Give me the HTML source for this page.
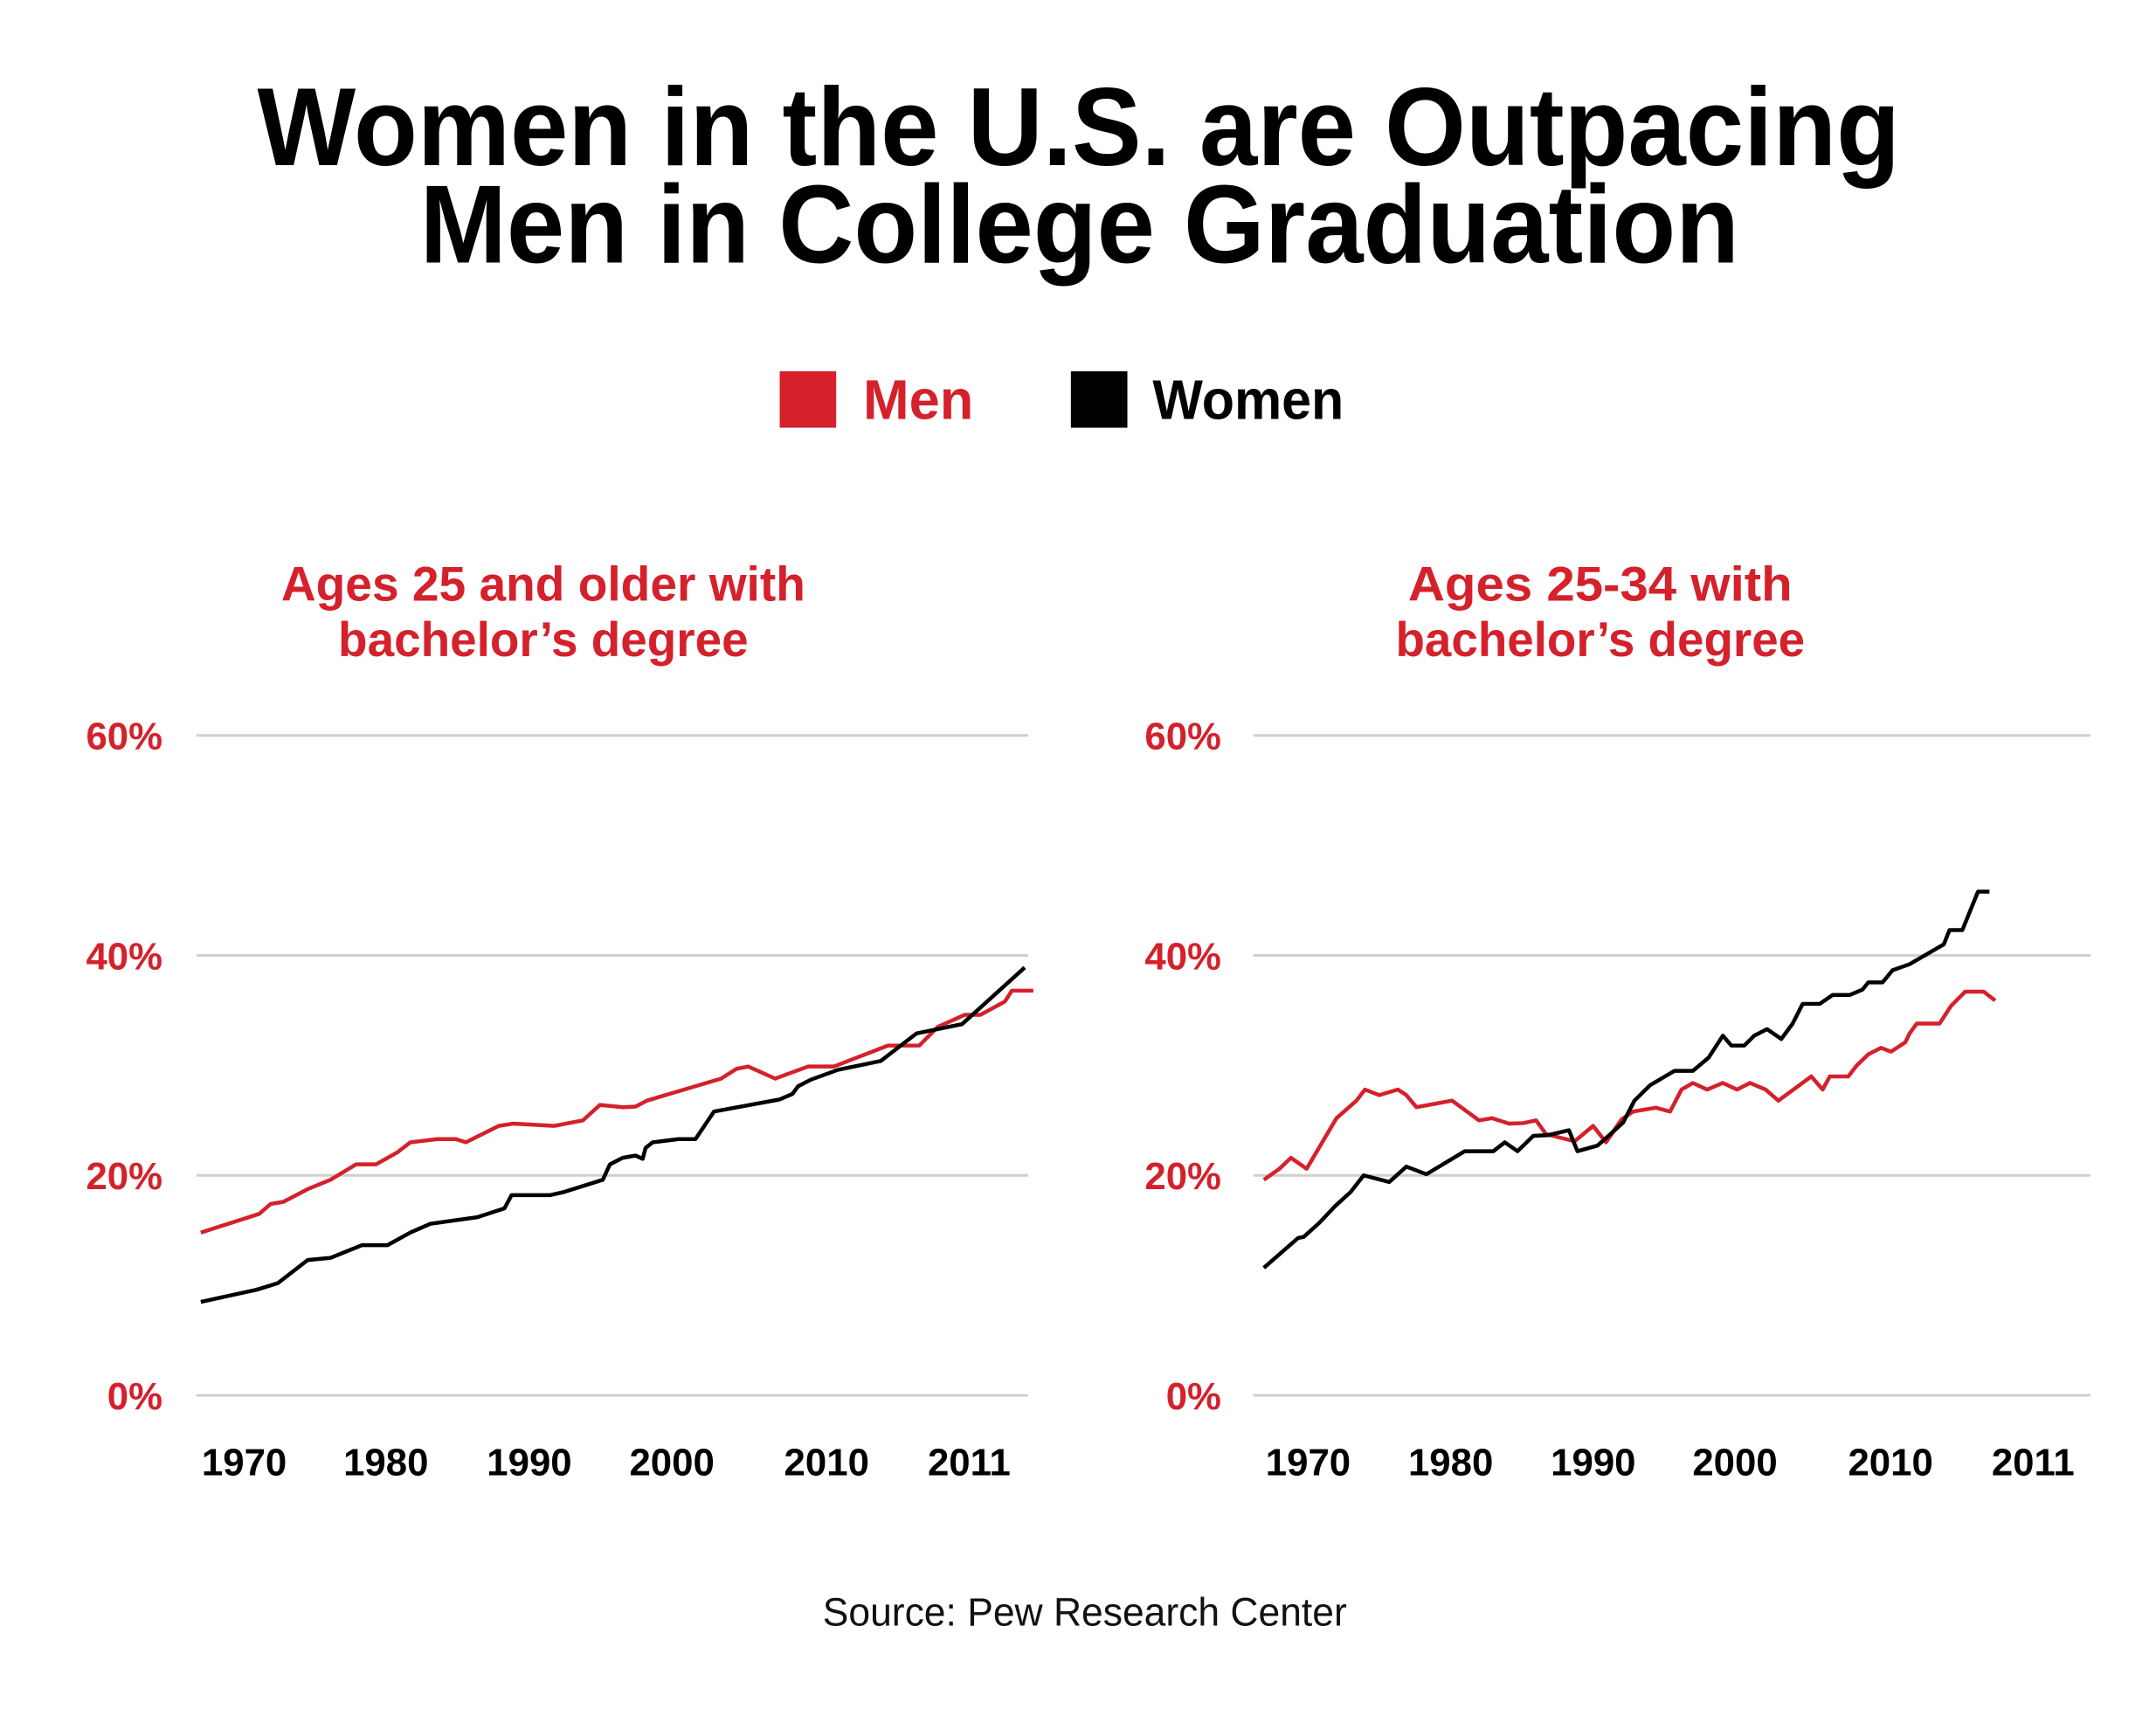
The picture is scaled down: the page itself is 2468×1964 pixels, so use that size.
<!DOCTYPE html>
<html><head><meta charset="utf-8"><style>
html,body{margin:0;padding:0;background:#fff;}
svg{display:block;}
text{font-family:"Liberation Sans",Arial,sans-serif;}
</style></head><body>
<svg id="chart" width="2468" height="1964" viewBox="0 0 2468 1964" xmlns="http://www.w3.org/2000/svg">
<rect width="2468" height="1964" fill="#fff"/>
<g transform="scale(0.995)">
<g>
<text x="296" y="190" font-size="128" font-weight="bold" textLength="1890" lengthAdjust="spacingAndGlyphs" fill="#000">Women in the U.S. are Outpacing</text>
<text x="483" y="302" font-size="128" font-weight="bold" textLength="1518" lengthAdjust="spacingAndGlyphs" fill="#000">Men in College Graduation</text>
</g>
<g>
<rect x="897" y="427" width="65" height="65" fill="#d4212b"/>
<text x="993" y="482" font-size="64" font-weight="bold" fill="#d4212b" textLength="127" lengthAdjust="spacingAndGlyphs">Men</text>
<rect x="1232" y="427" width="65" height="65" fill="#000"/>
<text x="1326" y="482" font-size="64" font-weight="bold" fill="#000" textLength="220" lengthAdjust="spacingAndGlyphs">Women</text>
</g>
<g>
<text x="625" y="691" font-size="56" font-weight="bold" fill="#d4212b" text-anchor="middle" textLength="603" lengthAdjust="spacingAndGlyphs">Ages 25 and older with</text>
<text x="625" y="755" font-size="56" font-weight="bold" fill="#d4212b" text-anchor="middle" textLength="472" lengthAdjust="spacingAndGlyphs">bachelor’s degree</text>
</g>
<g>
<text x="1841" y="691" font-size="56" font-weight="bold" fill="#d4212b" text-anchor="middle" textLength="442" lengthAdjust="spacingAndGlyphs">Ages 25-34 with</text>
<text x="1841" y="755" font-size="56" font-weight="bold" fill="#d4212b" text-anchor="middle" textLength="471" lengthAdjust="spacingAndGlyphs">bachelor’s degree</text>
</g>
<g id="left-panel"></g>
<g id="right-panel"></g>
<text x="1248" y="1870" font-size="46" fill="#111" text-anchor="middle" textLength="603" lengthAdjust="spacingAndGlyphs">Source: Pew Research Center</text>
</g>
</svg>
<script>
const yTicks = [0, 20, 40, 60];
const yTickLabels = ["0%", "20%", "40%", "60%"];
const xTickLabels = ["1970", "1980", "1990", "2000", "2010", "2011"];
const leftMenYears = [1967,1971.1,1971.9,1972.8,1974.5,1976.1,1977.9,1979.3,1980.8,1981.7,1983.6,1984.9,1985.6,1987.9,1988.9,1991.8,1993.8,1995.0,1996.6,1997.5,1998.3,2003.5,2004.6,2005.4,2006.1,2007.3,2009.6,2011.4,2015.2,2017.4,2018.7,2020.6,2021.7,2023.4,2023.9,2025.4];
const leftMenValues = [14.8,16.5,17.4,17.6,18.75,19.6,21.0,21.0,22.1,23.0,23.3,23.3,23.0,24.5,24.7,24.5,25.0,26.4,26.2,26.25,26.8,28.8,29.7,29.9,29.5,28.8,29.9,29.9,31.8,31.8,33.5,34.6,34.6,35.8,36.8,36.8];
const leftWomenYears = [1967,1970.9,1972.4,1974.5,1976.1,1978.3,1980.1,1981.7,1983.1,1986.4,1988.3,1988.8,1991.5,1992.5,1995.2,1995.7,1996.6,1997.5,1998.0,1998.2,1998.7,2000.5,2001.7,2003.0,2007.6,2008.5,2008.9,2009.8,2011.7,2014.7,2017.2,2020.4,2024.8];
const leftWomenValues = [8.5,9.6,10.2,12.3,12.5,13.65,13.65,14.8,15.6,16.2,17.0,18.2,18.2,18.5,19.6,21.0,21.6,21.8,21.5,22.5,23.0,23.3,23.3,25.8,26.9,27.4,28.1,28.7,29.6,30.4,32.9,33.75,38.9];
const rightMenYears = [1967,1968.1,1968.9,1970,1972.1,1973.5,1974.1,1975.1,1976.4,1977,1977.7,1980.2,1982.1,1983,1984.2,1985.2,1986.1,1986.8,1988.8,1990.1,1991,1992.1,1992.9,1994.5,1995.5,1996.3,1997.1,1998.1,1999.2,2000.2,2001.1,2002.2,2003.1,2005.4,2006.2,2006.7,2008,2008.6,2009.4,2010.3,2011,2012,2012.3,2012.8,2014.4,2015.2,2016.2,2017.5,2018.3];
const rightMenValues = [19.6,20.6,21.6,20.6,25.2,26.8,27.8,27.3,27.8,27.3,26.2,26.8,25.0,25.2,24.7,24.75,25.0,23.75,23.1,24.5,23.0,25.1,25.8,26.15,25.8,27.8,28.4,27.8,28.4,27.8,28.4,27.8,26.8,29.0,27.8,29.0,29.0,30.0,31.0,31.6,31.25,32.1,32.9,33.8,33.8,35.4,36.7,36.7,35.9];
const rightWomenYears = [1967,1969.4,1969.8,1970.9,1972,1973.1,1974,1975.8,1977,1978.4,1981.1,1983.1,1983.9,1984.8,1985.9,1986.9,1988.4,1989,1990.4,1991.1,1992.2,1993,1994.1,1995.8,1997.1,1998.2,1999.2,1999.8,2000.7,2001.4,2002.3,2003.3,2004.1,2004.8,2006,2006.9,2008.1,2009,2009.4,2010.4,2011.1,2012.3,2014.7,2015.1,2016,2017.1,2017.9];
const rightWomenValues = [11.6,14.3,14.4,15.7,17.2,18.5,20.0,19.4,20.8,20.1,22.2,22.2,23.0,22.2,23.6,23.65,24.1,22.2,22.7,23.5,24.8,26.8,28.2,29.5,29.5,30.7,32.7,31.8,31.8,32.7,33.3,32.4,33.8,35.6,35.6,36.4,36.4,36.9,37.55,37.55,38.65,39.2,41.0,42.3,42.3,45.8,45.8];

const NS = "http://www.w3.org/2000/svg";
function mk(tag, attrs, parent){const e=document.createElementNS(NS,tag);for(const k in attrs)e.setAttribute(k,attrs[k]);parent.appendChild(e);return e;}
function yScale(v){return 1605 - v*(1605-846)/60;}
function drawPanel(g, gx0, gx1, lx0, ylabRight, labX, menY, menV, womY, womV, side){
  const xScale = y => lx0 + (y-1967)*16.4;
  yTicks.forEach((t,i)=>{
    const ln = mk("line",{x1:gx0,x2:gx1,y1:yScale(t),y2:yScale(t),stroke:"#cfcfcf","stroke-width":3},g);
    
    
    const tx = mk("text",{x:ylabRight,y:yScale(t)+16,"font-size":44,"font-weight":"bold",fill:"#d4212b","text-anchor":"end"},g);
    tx.textContent = yTickLabels[i];
    
    
  });
  xTickLabels.forEach((l,i)=>{
    const tx = mk("text",{x:labX[i],y:1697,"font-size":44,"font-weight":"bold",fill:"#000","text-anchor":"middle"},g);
    tx.textContent = l;
    
    
  });
  const series = [[menY,menV,"#d4212b","men"],[womY,womV,"#000","women"]];
  series.forEach(s=>{
    const d = s[0].map((yr,i)=>(i?"L":"M")+xScale(yr).toFixed(1)+","+yScale(s[1][i]).toFixed(1)).join(" ");
    const p = mk("path",{d:d,fill:"none",stroke:s[2],"stroke-width":4.5,"stroke-linejoin":"round"},g);
    
    
  });
}
drawPanel(document.getElementById("left-panel"),226,1183,231,187,[281,444,609,773,951,1115],leftMenYears,leftMenValues,leftWomenYears,leftWomenValues,"left");
drawPanel(document.getElementById("right-panel"),1442,2405,1454,1405,[1505,1669,1833,1996,2175,2339],rightMenYears,rightMenValues,rightWomenYears,rightWomenValues,"right");
</script>
</body></html>
